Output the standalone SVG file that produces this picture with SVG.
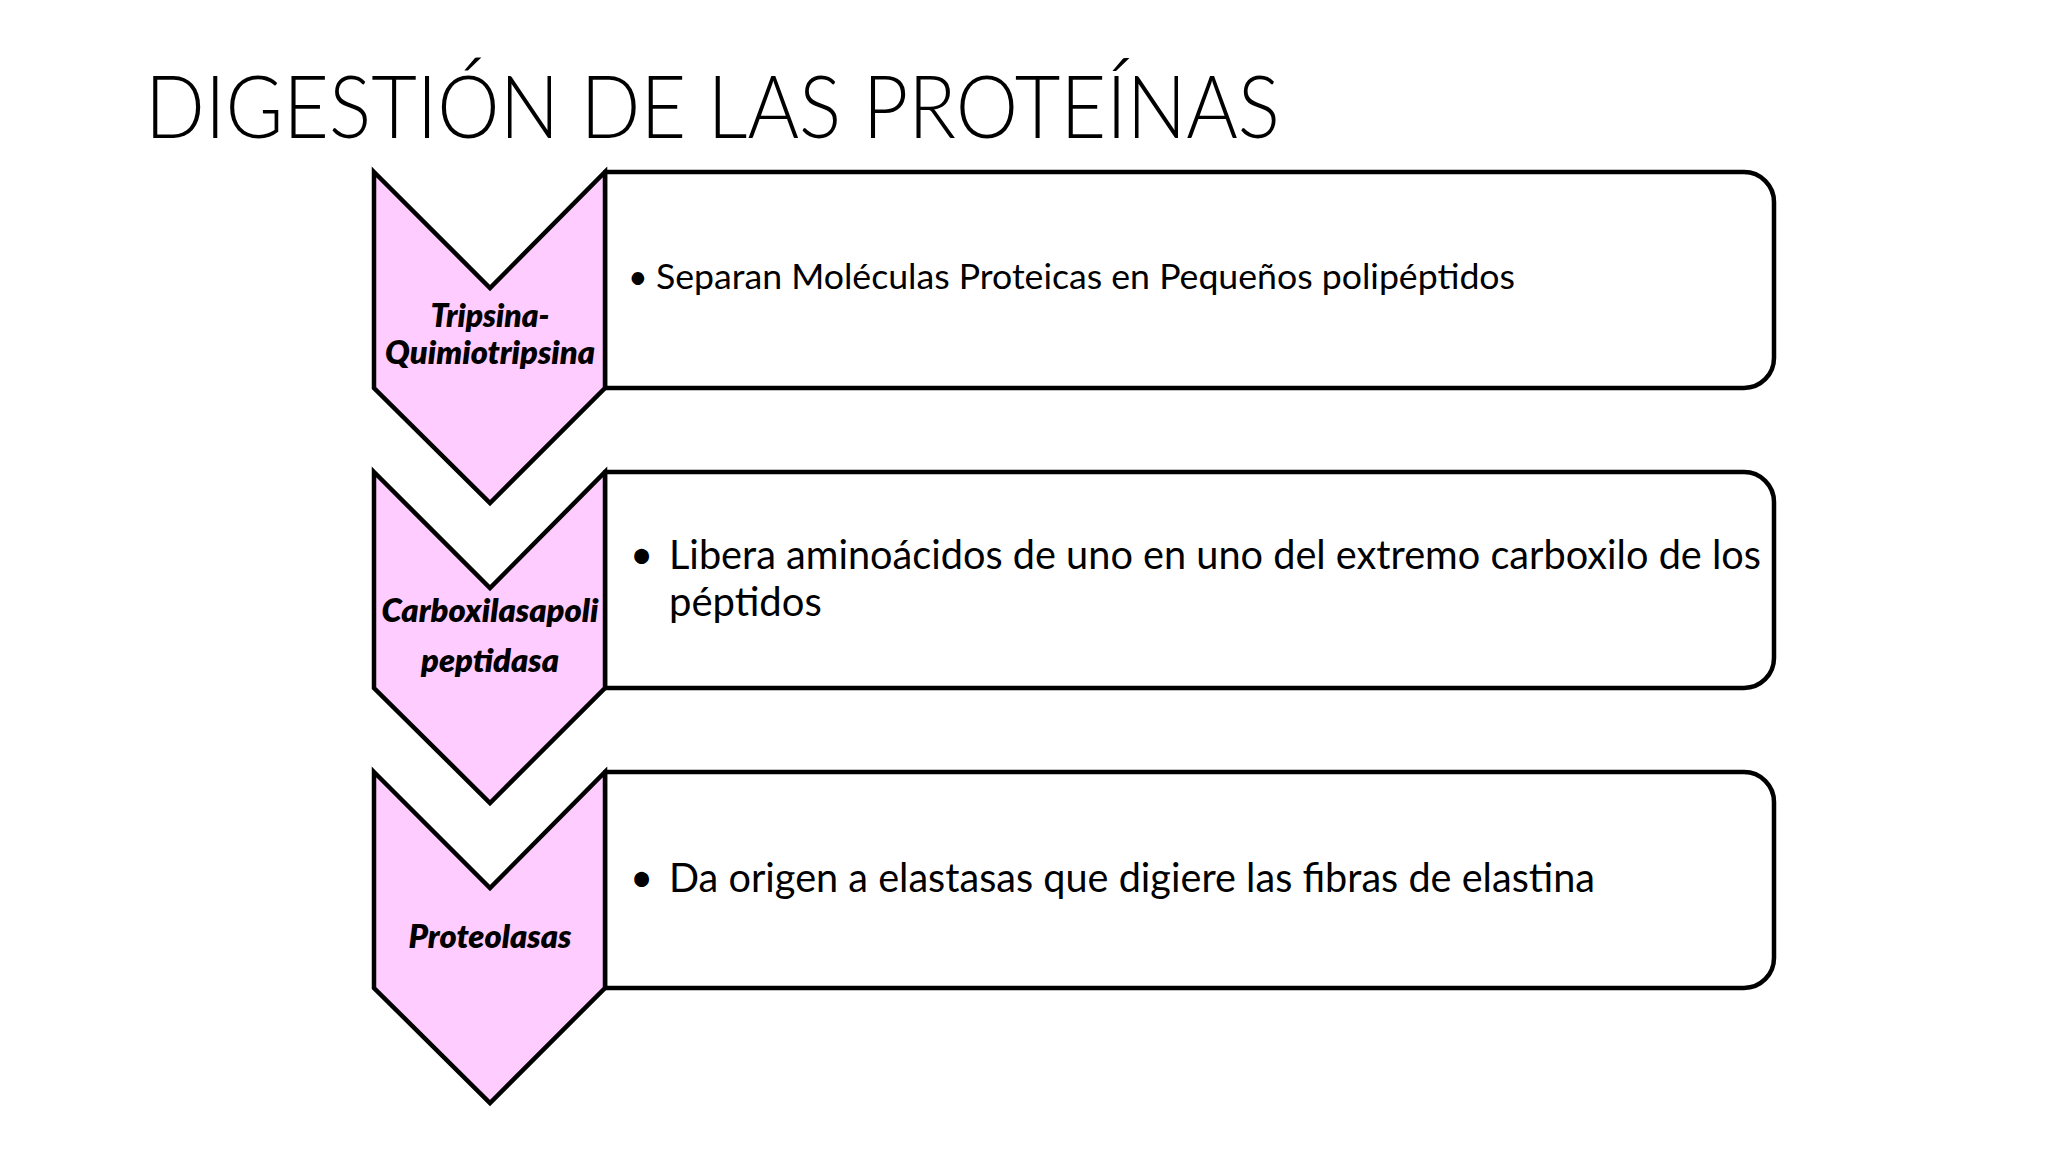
<svg xmlns="http://www.w3.org/2000/svg" width="2048" height="1152" viewBox="0 0 2048 1152">
<defs>
<style>
.bg{fill:#ffffff}
.box{fill:#ffffff;stroke:#000000;stroke-width:4.5;stroke-linejoin:round}
.chev{fill:#ffccff;stroke:#000000;stroke-width:4.5;stroke-linejoin:miter}
.lbl{font-family:Lato,"Open Sans","Liberation Sans",sans-serif;font-weight:800;font-style:italic;font-size:32px;fill:#000000;text-anchor:middle}
.body{font-family:Lato,"Open Sans","Liberation Sans",sans-serif;fill:#000000}
.title{font-family:Lato,"Open Sans","Liberation Sans",sans-serif;font-weight:300;font-size:86px;fill:#000000}
</style>
</defs>
<rect class="bg" x="0" y="0" width="2048" height="1152"/>
<text class="title" x="145" y="138" textLength="1135" lengthAdjust="spacingAndGlyphs">DIGESTIÓN DE LAS PROTEÍNAS</text>

<g id="step1">
<path class="box" d="M605,172 H1744 A30,30 0 0 1 1774,202 V358 A30,30 0 0 1 1744,388 H605 Z"/>
<path class="chev" d="M374,172 L490,288 L605,172 V388 L490,503 L374,388 Z"/>
<text class="lbl" x="490" y="327" textLength="119" lengthAdjust="spacingAndGlyphs">Tripsina-</text>
<text class="lbl" x="490" y="364" textLength="210" lengthAdjust="spacingAndGlyphs">Quimiotripsina</text>
<text class="body" x="628" y="289" font-size="34">•</text>
<text class="body" x="656" y="289" font-size="34" textLength="859" lengthAdjust="spacingAndGlyphs">Separan Moléculas Proteicas en Pequeños polipéptidos</text>
</g>

<g id="step2">
<path class="box" d="M605,472 H1744 A30,30 0 0 1 1774,502 V658 A30,30 0 0 1 1744,688 H605 Z"/>
<path class="chev" d="M374,472 L490,588 L605,472 V688 L490,803 L374,688 Z"/>
<text class="lbl" x="490" y="622" textLength="217" lengthAdjust="spacingAndGlyphs">Carboxilasapoli</text>
<text class="lbl" x="490" y="672" textLength="138" lengthAdjust="spacingAndGlyphs">peptidasa</text>
<text class="body" x="630" y="569" font-size="40">•</text>
<text class="body" x="669" y="569" font-size="40" textLength="1092" lengthAdjust="spacingAndGlyphs">Libera aminoácidos de uno en uno del extremo carboxilo de los</text>
<text class="body" x="669" y="616" font-size="40">péptidos</text>
</g>

<g id="step3">
<path class="box" d="M605,772 H1744 A30,30 0 0 1 1774,802 V958 A30,30 0 0 1 1744,988 H605 Z"/>
<path class="chev" d="M374,772 L490,888 L605,772 V988 L490,1103 L374,988 Z"/>
<text class="lbl" x="490" y="948" textLength="163" lengthAdjust="spacingAndGlyphs">Proteolasas</text>
<text class="body" x="630" y="892" font-size="40">•</text>
<text class="body" x="669" y="892" font-size="40" textLength="926" lengthAdjust="spacingAndGlyphs">Da origen a elastasas que digiere las fibras de elastina</text>
</g>

<g id="connectors"></g>
</svg>
